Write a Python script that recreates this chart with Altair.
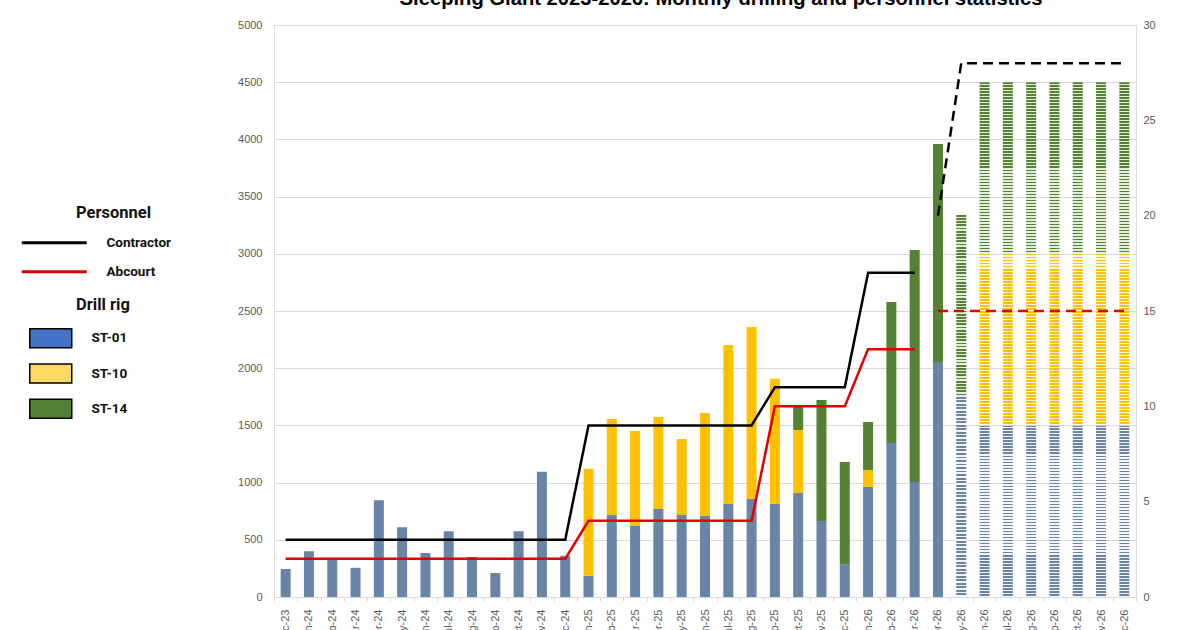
import altair as alt
import pandas as pd

title_text = "Sleeping Giant 2023-2026: Monthly drilling and personnel statistics"

months = ["Dec-23", "Jan-24", "Feb-24", "Mar-24", "Apr-24", "May-24", "Jun-24", "Jul-24",
          "Aug-24", "Sep-24", "Oct-24", "Nov-24", "Dec-24",
          "Jan-25", "Feb-25", "Mar-25", "Apr-25", "May-25", "Jun-25", "Jul-25", "Aug-25",
          "Sep-25", "Oct-25", "Nov-25", "Dec-25",
          "Jan-26", "Feb-26", "Mar-26", "Apr-26", "May-26", "Jun-26", "Jul-26", "Aug-26",
          "Sep-26", "Oct-26", "Nov-26", "Dec-26"]

# metres drilled per rig (left axis)
st01 = [245, 400, 325, 255, 845, 610, 385, 575, 350, 210, 575, 1095, 360,
        185, 717, 621, 769, 717, 708, 813, 857, 815, 909, 664, 288,
        962, 1346, 1005, 2054, 1750, 1500, 1500, 1500, 1500, 1500, 1500, 1500]
st10 = [0, 0, 0, 0, 0, 0, 0, 0, 0, 0, 0, 0, 0,
        935, 839, 830, 804, 664, 900, 1390, 1503, 1093, 551, 0, 0,
        148, 0, 0, 0, 0, 1500, 1500, 1500, 1500, 1500, 1500, 1500]
st14 = [0, 0, 0, 0, 0, 0, 0, 0, 0, 0, 0, 0, 0,
        0, 0, 0, 0, 0, 0, 0, 0, 0, 210, 1058, 892,
        420, 1233, 2028, 1906, 1590, 1500, 1500, 1500, 1500, 1500, 1500, 1500]
first_projected = "May-26"

# personnel (right axis); None = no value
contractor = [3, 3, 3, 3, 3, 3, 3, 3, 3, 3, 3, 3, 3,
              9, 9, 9, 9, 9, 9, 9, 9, 11, 11, 11, 11,
              17, 17, 17, None, None, None, None, None, None, None, None, None]
contractor_plan = [None] * 28 + [20, 28, 28, 28, 28, 28, 28, 28, 28]
abcourt = [2, 2, 2, 2, 2, 2, 2, 2, 2, 2, 2, 2, 2,
           4, 4, 4, 4, 4, 4, 4, 4, 10, 10, 10, 10,
           13, 13, 13, None, None, None, None, None, None, None, None, None]
abcourt_plan = [None] * 28 + [15, 15, 15, 15, 15, 15, 15, 15, 15]

rigs = ["ST-01", "ST-10", "ST-14"]
bar_colors = ["#6A84A8", "#FFC000", "#548235"]
legend_colors = ["#4472C4", "#FFD966", "#548235"]
stripe_gap = ["#F4F6FA", "#FFF6D8", "#E3EEDB"]

# ---- build tables ----
rows = []
proj_start = months.index(first_projected)
for i, m in enumerate(months):
    base = 0
    for rig, vals in zip(rigs, [st01, st10, st14]):
        v = vals[i]
        if v > 0:
            rows.append({"month": m, "rig": rig, "y0": base, "y1": base + v,
                         "projected": i >= proj_start})
        base += v
bars = pd.DataFrame(rows)

lrows = []
for series, seg, vals in [("Contractor", "actual", contractor), ("Contractor", "plan", contractor_plan),
                          ("Abcourt", "actual", abcourt), ("Abcourt", "plan", abcourt_plan)]:
    for m, v in zip(months, vals):
        if v is not None:
            lrows.append({"month": m, "series": series, "seg": seg, "value": v,
                          "key": series + seg})
lines = pd.DataFrame(lrows)

W, H = 862, 572
xenc = alt.X("month:N", sort=months, title=None,
             scale=alt.Scale(domain=months, paddingInner=0, paddingOuter=0),
             axis=alt.Axis(labelAngle=-90, labelFont="Liberation Sans", labelFontSize=11,
                           labelColor="#595959", labelPadding=8, domainColor="#D9D9D9",
                           tickColor="#D9D9D9", tickSize=4, tickBand="extent", grid=False))
yscale = alt.Scale(domain=[0, 5000], nice=False)
yaxis = alt.Axis(values=list(range(0, 5001, 500)), format="d", labelFont="Liberation Sans",
                 labelFontSize=11, labelColor="#595959", labelPadding=12, domain=False,
                 ticks=False, gridColor="#D9D9D9", gridWidth=1, title=None)

solid = alt.Chart(bars).transform_filter("!datum.projected").mark_bar(width=10).encode(
    x=xenc,
    y=alt.Y("y0:Q", scale=yscale, axis=yaxis),
    y2="y1:Q",
    color=alt.Color("rig:N", scale=alt.Scale(domain=rigs, range=bar_colors), legend=None),
)


def stripes(c, g, n=57):
    stops = []
    for k in range(n):
        a, b, e = k / n, (k + 0.55) / n, (k + 1) / n
        stops += [{"offset": a, "color": c}, {"offset": b, "color": c},
                  {"offset": b, "color": g}, {"offset": e, "color": g}]
    return {"gradient": "linear", "x1": 0, "y1": 0, "x2": 0, "y2": 1, "stops": stops}


proj_layers = []
for rig, c, g in zip(rigs, bar_colors, stripe_gap):
    proj_layers.append(
        alt.Chart(bars).transform_filter(
            f"datum.projected && datum.rig == '{rig}'"
        ).mark_bar(width=10, fill=stripes(c, g)).encode(
            x=xenc, y=alt.Y("y0:Q", scale=yscale, axis=yaxis), y2="y1:Q"
        )
    )

# legend-only layer (invisible marks); scale domain taken from data so it is not merged
legend_layer = alt.Chart(bars).mark_square(opacity=0, size=0).encode(
    x=xenc,
    y=alt.Y("y0:Q", scale=yscale, axis=yaxis),
    fill=alt.Fill("rig:N", scale=alt.Scale(range=legend_colors),
                  legend=alt.Legend(
                      title="Drill rig", orient="none", legendX=-198, legendY=272,
                      symbolType="M-53,-9.5H-11V9.5H-53Z", symbolSize=4,
                      symbolStrokeColor="black", symbolStrokeWidth=1.5, symbolOpacity=1,
                      labelOffset=2, labelFont="Roboto", labelFontWeight="bold",
                      labelFontSize=13.5, labelColor="#111111",
                      titleFont="Roboto", titleFontSize=16.5, titleFontWeight="bold",
                      titleColor="#111111", titleAnchor="start", titlePadding=18,
                      rowPadding=9.25, padding=0))
)

title_layer = alt.Chart(pd.DataFrame({"t": [title_text]})).mark_text(
    font="Liberation Sans", fontSize=20.2, fontWeight="bold", color="#000000",
    align="center", baseline="alphabetic"
).encode(text="t:N", x=alt.value(W / 2 + 16), y=alt.value(-20))

bar_layer = alt.layer(solid, *proj_layers, legend_layer, title_layer)

line_layer = alt.Chart(lines).mark_line(strokeWidth=2.5).encode(
    x=xenc,
    y=alt.Y("value:Q", scale=alt.Scale(domain=[0, 30], nice=False),
            axis=alt.Axis(orient="right", values=[0, 5, 10, 15, 20, 25, 30],
                          labelFont="Liberation Sans", labelFontSize=11, labelColor="#595959",
                          labelPadding=7, domain=False, ticks=False, grid=False, title=None)),
    stroke=alt.Stroke("series:N", scale=alt.Scale(domain=["Contractor", "Abcourt"],
                                                  range=["#000000", "#E00000"]),
                      legend=alt.Legend(
                          title="Personnel", orient="none", legendX=-198, legendY=180,
                          symbolType="M-61,0H4", symbolSize=4, symbolStrokeWidth=3,
                          labelOffset=17, labelFont="Roboto", labelFontWeight="bold",
                          labelFontSize=13.5, labelColor="#111111",
                          titleFont="Roboto", titleFontSize=16.5, titleFontWeight="bold",
                          titleColor="#111111", titleAnchor="start", titlePadding=14.5,
                          rowPadding=14, padding=0)),
    strokeDash=alt.StrokeDash("seg:N", scale=alt.Scale(domain=["actual", "plan"],
                                                       range=[[1, 0], [10, 6]]),
                              legend=None),
    detail="key:N",
)

chart = alt.layer(bar_layer, line_layer).resolve_scale(y="independent").properties(
    width=W, height=H,
    autosize=alt.AutoSizeParams(type="none"),
    padding={"left": 274, "top": 25, "right": 64, "bottom": 33},
).configure_view(stroke=None).configure(background="white")

chart.save("out.html", embed_options={"renderer": "svg", "actions": False})
